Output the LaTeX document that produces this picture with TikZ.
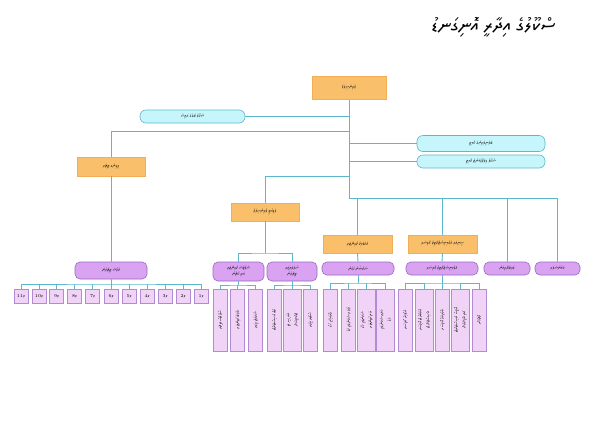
\documentclass[tikz,border=0pt]{standalone}
\usepackage{fontspec}
\usepackage{graphicx}
\TeXXeTstate=1
\IfFontExistsTF{Noto Sans Thaana}{\newfontfamily\thaana[Script=Thaana]{Noto Sans Thaana}}{\IfFontExistsTF{FreeSerif}{\newfontfamily\thaana[Script=Thaana]{FreeSerif}}{\newfontfamily\thaana{DejaVu Sans}}}
\newcommand\thtext[1]{{\thaana\beginR #1\endR}}
\newcommand\vtext[1]{\rotatebox{90}{\renewcommand\arraystretch{1.2}\begin{tabular}{@{}c@{}}#1\end{tabular}}}
\newcommand\gradelabel[1]{\hbox{#1}\hbox{\thaana ވ}}
\definecolor{linec}{HTML}{5CB8CC}
\definecolor{orangeF}{HTML}{F9BF6A}
\definecolor{orangeD}{HTML}{F2AE55}
\definecolor{cyanF}{HTML}{C6F6FB}
\definecolor{cyanD}{HTML}{5BB8CE}
\definecolor{purpF}{HTML}{D9A3F2}
\definecolor{purpD}{HTML}{9A68C2}
\definecolor{lavF}{HTML}{F1D3F7}
\definecolor{lavD}{HTML}{B38BD2}
\begin{document}
\begin{tikzpicture}[x=1pt,y=-1pt,
  conn/.style={draw=linec,line width=0.9pt},
  every node/.style={inner sep=1pt,font=\fontsize{4.5}{6.5}\selectfont,align=center},
  obox/.style={rectangle,fill=orangeF,draw=orangeD,line width=0.4pt},
  cbox/.style={rectangle,rounded corners=6pt,fill=cyanF,draw=cyanD,line width=0.6pt},
  pbox/.style={rectangle,rounded corners=5pt,fill=purpF,draw=purpD,line width=0.6pt},
  tbox/.style={rectangle,fill=lavF,draw=lavD,line width=0.6pt,minimum width=14pt,minimum height=62pt},
  nbox/.style={rectangle,fill=lavF,draw=lavD,line width=0.6pt,minimum width=14pt,minimum height=14pt}]
\useasboundingbox (0,0) rectangle (600,424);
\fill[white] (0,0) rectangle (600,424);

\node[font=\fontsize{19}{22}\selectfont] (title) at (493,27) {\thtext{ސްކޫލުގެ އިދާރީ އޮނިގަނޑު}};

\node[obox,minimum width=74pt,minimum height=23pt] (P) at (349,88) {\thtext{ޕްރިންސިޕަލް}};
\node[cbox,minimum width=105pt,minimum height=13pt] (CL) at (192.5,116.5) {\thtext{ސްކޫލް ބޯޑުގެ ރައީސް}};
\node[cbox,minimum width=128pt,minimum height=16pt] (CR1) at (481,143.5) {\thtext{ބެލެނިވެރިންގެ ކޮމިޓީ}};
\node[cbox,minimum width=128pt,minimum height=13pt] (CR2) at (481,161.5) {\thtext{ސްކޫލް ޑިވެލޮޕްމަންޓް ކޮމިޓީ}};
\node[obox,minimum width=68pt,minimum height=19pt] (L) at (111,166.5) {\thtext{ލީޑިންގ ޓީޗަރ}};
\node[obox,minimum width=68pt,minimum height=18pt] (M) at (265,212) {\thtext{ޑެޕިއުޓީ ޕްރިންސިޕަލް}};
\node[obox,minimum width=69pt,minimum height=18pt] (A) at (357.5,244) {\thtext{އެކަޑެމިކް ކޯޑިނޭޓަރ}};
\node[obox,minimum width=69pt,minimum height=18pt] (B) at (442.5,244) {\thtext{ސީނިއަރ އެޑްމިނިސްޓްރޭޓިވް އޮފިސަރ}};

\node[pbox,minimum width=72pt,minimum height=17pt] (G) at (111,270.5) {\thtext{ކްލާސް ޓީޗަރުން}};
\node[pbox,minimum width=51pt,minimum height=19pt] (E) at (238.5,271.5) {\thtext{ސްޕޯޓްސް ކޯޑިނޭޓަރ}\\\thtext{އަދި ކޯޗުން}};
\node[pbox,minimum width=50pt,minimum height=19pt] (F) at (292,271.5) {\thtext{ސުޕަވައިޒަރ}\\\thtext{ޓީޗަރުން}};
\node[pbox,minimum width=72pt,minimum height=13pt] (Ap) at (358,268.5) {\thtext{ސެކްޝަން ހެޑުން}};
\node[pbox,minimum width=72pt,minimum height=13pt] (Bp) at (442,268.5) {\thtext{އެޑްމިނިސްޓްރޭޓިވް އޮފިސަރ}};
\node[pbox,minimum width=46pt,minimum height=13pt] (Cp) at (507,268.5) {\thtext{ލައިބްރޭރިއަން}};
\node[pbox,minimum width=45pt,minimum height=13pt] (Dp) at (557.5,268.5) {\thtext{ކައުންސެލަރ}};

% trunk
\coordinate (jL) at (349,131);
\coordinate (jM) at (349,176);
\coordinate (tE) at (349,198);
\draw[conn] (P.south) -- (tE);
\draw[conn] (CL.east) -- (CL.east -| P.south);
\draw[conn] (CR1.west) -- (CR1.west -| P.south);
\draw[conn] (CR2.west) -- (CR2.west -| P.south);
\draw[conn] (L.north) |- (jL);
\draw[conn] (M.north) |- (jM);
\draw[conn] (tE) -| (Dp.north);
\draw[conn] (A.north |- tE) -- (A.north);
\draw[conn] (B.north |- tE) -- (B.north);
\draw[conn] (Cp.north |- tE) -- (Cp.north);
\draw[conn] (L.south) -- (G.north);
\draw[conn] (A.south) -- (Ap.north);
\draw[conn] (B.south) -- (Bp.north);
\coordinate (jm2) at (265,253);
\draw[conn] (M.south) -- (jm2);
\draw[conn] (E.north) |- (jm2) -| (F.north);

% grade boxes
\foreach \n/\x in {11/21,10/39,9/56.5,8/74.5,7/92.5,6/111,5/129,4/147,3/165,2/183,1/201}{
  \node[nbox] (g\n) at (\x,296) {\gradelabel{\n}};
}
\coordinate (jG) at (111,284);
\draw[conn] (G.south) -- (jG);
\draw[conn] (g11.north) |- (jG) -| (g1.north);
\foreach \n in {10,9,8,7,6,5,4,3,2}{\draw[conn] (g\n.north) -- (g\n.north |- jG);}

% tall boxes under E
\node[tbox] (e1) at (220,320) {\vtext{\thtext{ސްޕޯޓްސް ޓީޗަރ}}};
\node[tbox] (e2) at (237.5,320) {\vtext{\thtext{ކްލަބް ކޯޑިނޭޓަރ}}};
\node[tbox] (e3) at (255.5,320) {\vtext{\thtext{ސްކައުޓް ލީޑަރ}}};
\coordinate (jE) at (238.5,285);
\draw[conn] (E.south) -- (jE);
\draw[conn] (e1.north) |- (jE) -| (e3.north);
\draw[conn] (e2.north) -- (e2.north |- jE);

% tall boxes under F
\node[tbox] (f1) at (274,320) {\vtext{\thtext{ލެބް އެސިސްޓަންޓް}}};
\node[tbox] (f2) at (292,320) {\vtext{\thtext{އައި.ސީ.ޓީ}\\\thtext{ޓެކްނީޝަން}}};
\node[tbox] (f3) at (310,320) {\vtext{\thtext{ސްޓޯރ ކީޕަރ}}};
\coordinate (jF) at (292,285);
\draw[conn] (F.south) -- (jF);
\draw[conn] (f1.north) |- (jF) -| (f3.north);
\draw[conn] (f2.north) -- (f2.north |- jF);

% tall boxes under A'
\node[tbox] (a1) at (330,320) {\vtext{\thtext{ޕްރައިމަރީ ހެޑް}}};
\node[tbox] (a2) at (348.5,320) {\vtext{\thtext{ލޯވަރ ސެކަންޑަރީ ހެޑް}}};
\node[tbox] (a3) at (366.5,320) {\vtext{\thtext{ސެކަންޑަރީ ހެޑް}\\\thtext{އަދި ކޯޑިނޭޓަރ}}};
\node[tbox] (a4) at (385.5,320) {\vtext{\thtext{ހަޔަރ ސެކަންޑަރީ}\\\thtext{ހެޑް}}};
\coordinate (jA) at (358,283);
\draw[conn] (Ap.south) -- (jA);
\draw[conn] (a1.north) |- (jA) -| (a4.north);
\draw[conn] (a2.north) -- (a2.north |- jA);
\draw[conn] (a3.north) -- (a3.north |- jA);

% tall boxes under B'
\node[tbox] (b1) at (405,320) {\vtext{\thtext{އެޑްމިން އޮފިސަރ}}};
\node[tbox] (b2) at (424,320) {\vtext{\thtext{އެކައުންޓް އޮފިސަރ}\\\thtext{އެސިސްޓަންޓް}}};
\node[tbox] (b3) at (442,320) {\vtext{\thtext{ކްލެރިކަލް އޮފިސަރ}}};
\node[tbox] (b4) at (460,320) {\vtext{\thtext{އޮފީސް އެސިސްޓަންޓް}\\\thtext{އަދި ކްލީނަރުން}}};
\node[tbox] (b5) at (479,320) {\vtext{\thtext{ވޮޗްމަން}}};
\coordinate (jB) at (442,283);
\draw[conn] (Bp.south) -- (jB);
\draw[conn] (b1.north) |- (jB) -| (b5.north);
\foreach \k in {b2,b3,b4}{\draw[conn] (\k.north) -- (\k.north |- jB);}
\end{tikzpicture}
\end{document}
